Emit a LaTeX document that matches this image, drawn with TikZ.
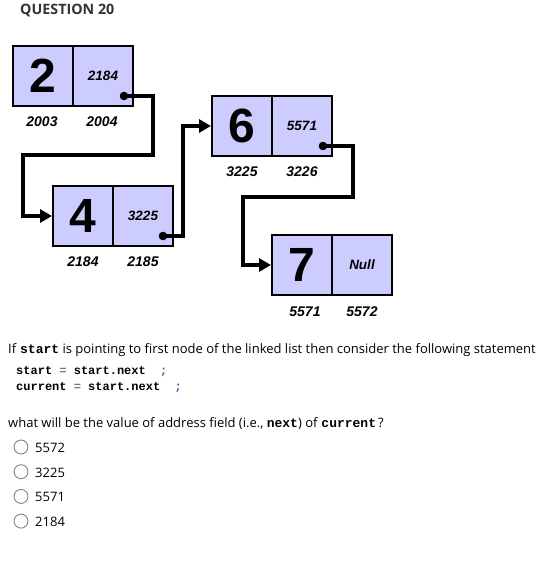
\documentclass[tikz,border=0pt]{standalone}
\usepackage{fontspec}
\setmainfont{Open Sans}
\newfontfamily\arialfont{Liberation Sans}
\setmonofont{Liberation Mono}
\usetikzlibrary{arrows.meta}

\definecolor{cellfill}{RGB}{204,204,255}
\definecolor{titlegray}{RGB}{51,51,51}
\definecolor{semipurple}{RGB}{128,64,160}
\definecolor{eqgray}{RGB}{120,120,120}
\definecolor{radiogray}{RGB}{130,130,130}

\tikzset{
  cell/.style={draw, line width=2pt, fill=cellfill, minimum width=60pt, minimum height=60pt, inner sep=0pt},
  valcell/.style={cell, font=\arialfont\bfseries\fontsize{48pt}{48pt}\selectfont},
  addrcell/.style={cell, font=\arialfont\bfseries\itshape\fontsize{13.5pt}{15pt}\selectfont},
  addr/.style={font=\arialfont\bfseries\itshape\fontsize{14pt}{16pt}\selectfont},
  link/.style={line width=3.2pt, -{Triangle[length=12pt,width=13pt]}},
  txt/.style={anchor=west, inner sep=0pt, font=\fontsize{13pt}{15pt}\selectfont},
  code/.style={anchor=west, inner sep=0pt, font=\ttfamily\bfseries\fontsize{12pt}{14pt}\selectfont},
  radio/.style={draw=radiogray, line width=0.9pt, fill=white}
}

\begin{document}
\begin{tikzpicture}[x=1pt, y=-1pt]
\useasboundingbox (0,0) rectangle (558,566);

% ==================== TITLE ====================
\node[txt, font=\bfseries\fontsize{14.3pt}{16pt}\selectfont, text=titlegray] (title) at (20,11) {QUESTION 20};

% ==================== NODE 2 ====================
\node[valcell] (v1) at (43,76) {2};
\node[addrcell] (a1) at (103,76) {2184};
\node[addr] (l1a) at (42,122) {2003};
\node[addr] (l1b) at (102,122) {2004};
\coordinate (d1) at (124,96);

% ==================== NODE 4 ====================
\node[valcell] (v2) at (83,216) {4};
\node[addrcell] (a2) at (143,216) {3225};
\node[addr] (l2a) at (83,262) {2184};
\node[addr] (l2b) at (143,262) {2185};
\coordinate (d2) at (163,236);

% ==================== NODE 6 ====================
\node[valcell] (v3) at (242,126) {6};
\node[addrcell] (a3) at (302,126) {5571};
\node[addr] (l3a) at (242,172) {3225};
\node[addr] (l3b) at (302,172) {3226};
\coordinate (d3) at (323,146);

% ==================== NODE 7 ====================
\node[valcell] (v4) at (302,265) {7};
\node[addrcell] (a4) at (362,265) {Null};
\node[addr] (l4a) at (305,312) {5571};
\node[addr] (l4b) at (362,312) {5572};

% ==================== LINKS ====================
% 2 -> 4
\coordinate (b1) at (153,155);
\coordinate (b2) at (23,155);
\draw[link] (d1) -| (b1) -- (b2) |- (v2.west);
% 4 -> 6
\coordinate (b3) at (183,236);
\draw[link] (d2) -- (b3) |- (v3.west);
% 6 -> 7
\coordinate (b4) at (353,197);
\coordinate (b5) at (243,197);
\draw[link] (d3) -| (b4) -- (b5) |- (v4.west);

% Pointer dots
\foreach \d in {d1,d2,d3}
  \fill (\d) circle (4.3pt);

% ==================== QUESTION TEXT ====================
\node[txt] (q1) at (8,350) {If \texttt{\bfseries start} is pointing to first node of the linked list then consider the following statement};
\node[code] (c1) at (16,372) {start \textcolor{eqgray}{=} start.next\ \ \textcolor{semipurple}{;}};
\node[code] (c2) at (16,388) {current \textcolor{eqgray}{=} start.next\ \ \textcolor{semipurple}{;}};
\node[txt] (q2) at (8,424) {what will be the value of address field (i.e., \texttt{\bfseries next}) of \texttt{\bfseries current}\,?};

% ==================== OPTIONS ====================
\foreach \val [count=\i] in {5572,3225,5571,2184} {
  \draw[radio] (21,{447+24.7*(\i-1)}) circle (7pt);
  \node[txt] (opt\i) at (35,{448+24.7*(\i-1)}) {\val};
}

\end{tikzpicture}
\end{document}
